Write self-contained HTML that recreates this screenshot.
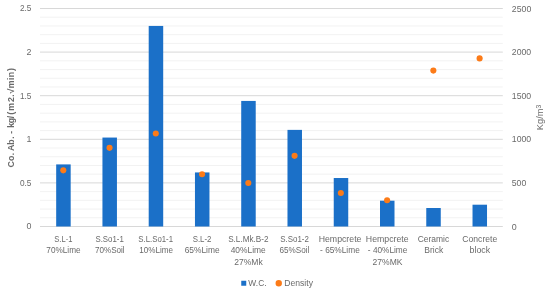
<!DOCTYPE html><html><head><meta charset="utf-8"><title>chart</title>
<style>html,body{margin:0;padding:0;background:#fff}svg{display:block}text{font-family:"Liberation Sans",sans-serif;fill:#6a6a6a}</style></head><body>
<svg width="550" height="292" viewBox="0 0 550 292">
<rect width="550" height="292" fill="#fff"/>
<line x1="40.0" x2="502.8" y1="217.78" y2="217.78" stroke="#f0f0f0" stroke-width="0.9"/>
<line x1="40.0" x2="502.8" y1="209.06" y2="209.06" stroke="#f0f0f0" stroke-width="0.9"/>
<line x1="40.0" x2="502.8" y1="200.34" y2="200.34" stroke="#f0f0f0" stroke-width="0.9"/>
<line x1="40.0" x2="502.8" y1="191.62" y2="191.62" stroke="#f0f0f0" stroke-width="0.9"/>
<line x1="40.0" x2="502.8" y1="174.18" y2="174.18" stroke="#f0f0f0" stroke-width="0.9"/>
<line x1="40.0" x2="502.8" y1="165.46" y2="165.46" stroke="#f0f0f0" stroke-width="0.9"/>
<line x1="40.0" x2="502.8" y1="156.74" y2="156.74" stroke="#f0f0f0" stroke-width="0.9"/>
<line x1="40.0" x2="502.8" y1="148.02" y2="148.02" stroke="#f0f0f0" stroke-width="0.9"/>
<line x1="40.0" x2="502.8" y1="130.58" y2="130.58" stroke="#f0f0f0" stroke-width="0.9"/>
<line x1="40.0" x2="502.8" y1="121.86" y2="121.86" stroke="#f0f0f0" stroke-width="0.9"/>
<line x1="40.0" x2="502.8" y1="113.14" y2="113.14" stroke="#f0f0f0" stroke-width="0.9"/>
<line x1="40.0" x2="502.8" y1="104.42" y2="104.42" stroke="#f0f0f0" stroke-width="0.9"/>
<line x1="40.0" x2="502.8" y1="86.98" y2="86.98" stroke="#f0f0f0" stroke-width="0.9"/>
<line x1="40.0" x2="502.8" y1="78.26" y2="78.26" stroke="#f0f0f0" stroke-width="0.9"/>
<line x1="40.0" x2="502.8" y1="69.54" y2="69.54" stroke="#f0f0f0" stroke-width="0.9"/>
<line x1="40.0" x2="502.8" y1="60.82" y2="60.82" stroke="#f0f0f0" stroke-width="0.9"/>
<line x1="40.0" x2="502.8" y1="43.38" y2="43.38" stroke="#f0f0f0" stroke-width="0.9"/>
<line x1="40.0" x2="502.8" y1="34.66" y2="34.66" stroke="#f0f0f0" stroke-width="0.9"/>
<line x1="40.0" x2="502.8" y1="25.94" y2="25.94" stroke="#f0f0f0" stroke-width="0.9"/>
<line x1="40.0" x2="502.8" y1="17.22" y2="17.22" stroke="#f0f0f0" stroke-width="0.9"/>
<line x1="40.0" x2="502.8" y1="226.50" y2="226.50" stroke="#d8d8d8" stroke-width="1"/>
<line x1="40.0" x2="502.8" y1="182.90" y2="182.90" stroke="#d8d8d8" stroke-width="1"/>
<line x1="40.0" x2="502.8" y1="139.30" y2="139.30" stroke="#d8d8d8" stroke-width="1"/>
<line x1="40.0" x2="502.8" y1="95.70" y2="95.70" stroke="#d8d8d8" stroke-width="1"/>
<line x1="40.0" x2="502.8" y1="52.10" y2="52.10" stroke="#d8d8d8" stroke-width="1"/>
<line x1="40.0" x2="502.8" y1="8.50" y2="8.50" stroke="#d8d8d8" stroke-width="1"/>
<rect x="56.18" y="164.41" width="14.50" height="62.09" fill="#1b70c8"/>
<rect x="102.44" y="137.56" width="14.50" height="88.94" fill="#1b70c8"/>
<rect x="148.70" y="25.94" width="14.50" height="200.56" fill="#1b70c8"/>
<rect x="194.96" y="172.44" width="14.50" height="54.06" fill="#1b70c8"/>
<rect x="241.22" y="100.93" width="14.50" height="125.57" fill="#1b70c8"/>
<rect x="287.48" y="129.88" width="14.50" height="96.62" fill="#1b70c8"/>
<rect x="333.74" y="178.02" width="14.50" height="48.48" fill="#1b70c8"/>
<rect x="380.00" y="200.69" width="14.50" height="25.81" fill="#1b70c8"/>
<rect x="426.26" y="208.01" width="14.50" height="18.49" fill="#1b70c8"/>
<rect x="472.52" y="204.70" width="14.50" height="21.80" fill="#1b70c8"/>
<circle cx="63.28" cy="170.34" r="3.05" fill="#fc7b18"/>
<circle cx="109.54" cy="147.85" r="3.05" fill="#fc7b18"/>
<circle cx="155.80" cy="133.46" r="3.05" fill="#fc7b18"/>
<circle cx="202.06" cy="174.18" r="3.05" fill="#fc7b18"/>
<circle cx="248.32" cy="183.07" r="3.05" fill="#fc7b18"/>
<circle cx="294.58" cy="155.87" r="3.05" fill="#fc7b18"/>
<circle cx="340.84" cy="193.02" r="3.05" fill="#fc7b18"/>
<circle cx="387.10" cy="200.25" r="3.05" fill="#fc7b18"/>
<circle cx="433.36" cy="70.59" r="3.05" fill="#fc7b18"/>
<circle cx="479.62" cy="58.38" r="3.05" fill="#fc7b18"/>
<g transform="rotate(0.02 275 146)">
<text x="31.4" y="229.55" font-size="8.9" text-anchor="end">0</text>
<text x="31.4" y="185.95" font-size="8.9" text-anchor="end" textLength="11.5" lengthAdjust="spacingAndGlyphs">0.5</text>
<text x="31.4" y="142.35" font-size="8.9" text-anchor="end">1</text>
<text x="31.4" y="98.75" font-size="8.9" text-anchor="end" textLength="11.5" lengthAdjust="spacingAndGlyphs">1.5</text>
<text x="31.4" y="55.15" font-size="8.9" text-anchor="end">2</text>
<text x="31.4" y="11.55" font-size="8.9" text-anchor="end" textLength="11.5" lengthAdjust="spacingAndGlyphs">2.5</text>
<text x="511.8" y="229.55" font-size="8.9">0</text>
<text x="511.8" y="185.95" font-size="8.9" textLength="14.5" lengthAdjust="spacingAndGlyphs">500</text>
<text x="511.8" y="142.35" font-size="8.9" textLength="19.4" lengthAdjust="spacingAndGlyphs">1000</text>
<text x="511.8" y="98.75" font-size="8.9" textLength="19.4" lengthAdjust="spacingAndGlyphs">1500</text>
<text x="511.8" y="55.15" font-size="8.9" textLength="19.4" lengthAdjust="spacingAndGlyphs">2000</text>
<text x="511.8" y="11.55" font-size="8.9" textLength="19.4" lengthAdjust="spacingAndGlyphs">2500</text>
</g>
<g transform="translate(13.6 117.5) rotate(-90)" font-size="8.9" font-weight="bold" fill="#646464">
<text x="-50.02 -43.47 -37.73 -36.23 -33.41 -27.33 -21.33 -19.83 -16.18 -14.68 -10.19 -5.70 -0.74 2.65 6.70 15.40 20.77 23.99 29.28 37.62 40.36 46.54" y="0">Co. Ab. - kg/(m2.√min)</text>
</g>
<text transform="translate(542.9 117.5) rotate(-90)" font-size="9.2" text-anchor="middle" textLength="25.4" lengthAdjust="spacingAndGlyphs">Kg/m<tspan font-size="6.6" dy="-2.3">3</tspan></text>
<g transform="rotate(0.02 275 146)">
<text x="63.35" y="241.6" font-size="8.6" text-anchor="middle" textLength="18.1" lengthAdjust="spacingAndGlyphs">S.L-1</text>
<text x="63.50" y="253.4" font-size="8.6" text-anchor="middle" textLength="34.2" lengthAdjust="spacingAndGlyphs">70%Lime</text>
<text x="109.65" y="241.6" font-size="8.6" text-anchor="middle" textLength="28.3" lengthAdjust="spacingAndGlyphs">S.So1-1</text>
<text x="109.85" y="253.4" font-size="8.6" text-anchor="middle" textLength="29.7" lengthAdjust="spacingAndGlyphs">70%Soil</text>
<text x="155.70" y="241.6" font-size="8.6" text-anchor="middle" textLength="34.6" lengthAdjust="spacingAndGlyphs">S.L.So1-1</text>
<text x="156.10" y="253.4" font-size="8.6" text-anchor="middle" textLength="33.8" lengthAdjust="spacingAndGlyphs">10%Lime</text>
<text x="202.10" y="241.6" font-size="8.6" text-anchor="middle" textLength="18.8" lengthAdjust="spacingAndGlyphs">S.L-2</text>
<text x="202.20" y="253.4" font-size="8.6" text-anchor="middle" textLength="35.0" lengthAdjust="spacingAndGlyphs">65%Lime</text>
<text x="248.35" y="241.6" font-size="8.6" text-anchor="middle" textLength="40.3" lengthAdjust="spacingAndGlyphs">S.L.Mk.B-2</text>
<text x="248.25" y="253.4" font-size="8.6" text-anchor="middle" textLength="35.1" lengthAdjust="spacingAndGlyphs">40%Lime</text>
<text x="248.55" y="264.8" font-size="8.6" text-anchor="middle" textLength="28.5" lengthAdjust="spacingAndGlyphs">27%Mk</text>
<text x="294.60" y="241.6" font-size="8.6" text-anchor="middle" textLength="28.6" lengthAdjust="spacingAndGlyphs">S.So1-2</text>
<text x="294.45" y="253.4" font-size="8.6" text-anchor="middle" textLength="29.9" lengthAdjust="spacingAndGlyphs">65%Soil</text>
<text x="340.10" y="241.6" font-size="8.6" text-anchor="middle" textLength="42.8" lengthAdjust="spacingAndGlyphs">Hempcrete</text>
<text x="339.95" y="253.4" font-size="8.6" text-anchor="middle" textLength="39.7" lengthAdjust="spacingAndGlyphs">- 65%Lime</text>
<text x="387.30" y="241.6" font-size="8.6" text-anchor="middle" textLength="42.8" lengthAdjust="spacingAndGlyphs">Hempcrete</text>
<text x="387.65" y="253.4" font-size="8.6" text-anchor="middle" textLength="39.5" lengthAdjust="spacingAndGlyphs">- 40%Lime</text>
<text x="387.55" y="264.8" font-size="8.6" text-anchor="middle" textLength="29.9" lengthAdjust="spacingAndGlyphs">27%MK</text>
<text x="433.45" y="241.6" font-size="8.6" text-anchor="middle" textLength="31.5" lengthAdjust="spacingAndGlyphs">Ceramic</text>
<text x="433.75" y="253.4" font-size="8.6" text-anchor="middle" textLength="18.9" lengthAdjust="spacingAndGlyphs">Brick</text>
<text x="479.80" y="241.6" font-size="8.6" text-anchor="middle" textLength="34.8" lengthAdjust="spacingAndGlyphs">Concrete</text>
<text x="479.85" y="253.4" font-size="8.6" text-anchor="middle" textLength="20.5" lengthAdjust="spacingAndGlyphs">block</text>
<rect x="241.3" y="280.8" width="5" height="5" fill="#1b70c8"/>
<text x="248.4" y="286" font-size="8.6" textLength="18.2" lengthAdjust="spacingAndGlyphs">W.C.</text>
<circle cx="278.8" cy="283.2" r="3.2" fill="#fc7b18"/>
<text x="284.4" y="286" font-size="8.6" textLength="28.6" lengthAdjust="spacingAndGlyphs">Density</text>
</g>
</svg></body></html>
